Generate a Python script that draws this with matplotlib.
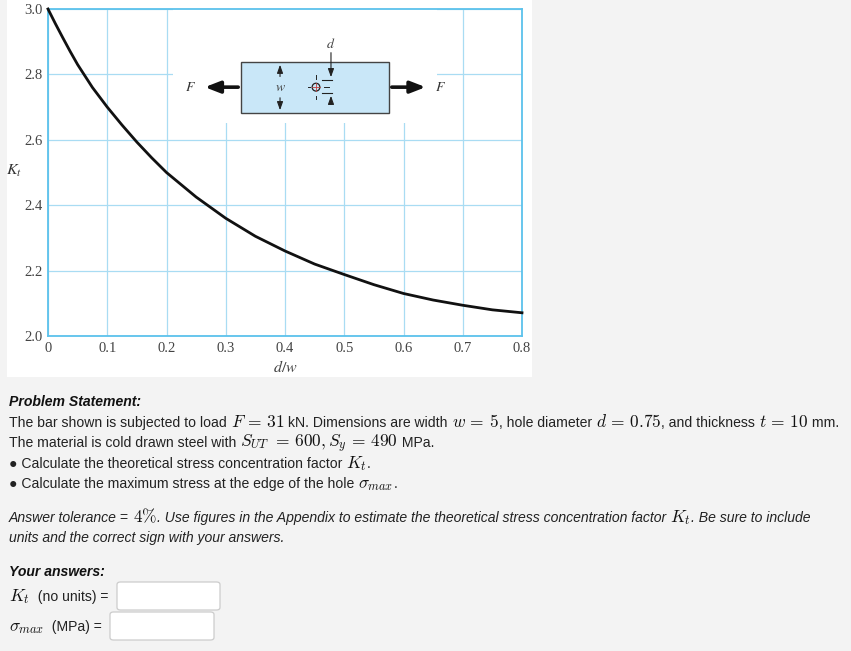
import matplotlib.pyplot as plt
from matplotlib.patches import Rectangle, Ellipse, FancyBboxPatch

# curve: K_t against d/w
d_over_w = [0.0, 0.0125, 0.025, 0.0375, 0.05, 0.075, 0.1, 0.125, 0.15, 0.175, 0.2,
            0.25, 0.3, 0.35, 0.4, 0.45, 0.5, 0.55, 0.6, 0.65, 0.7, 0.75, 0.8]
kt = [3.00, 2.955, 2.912, 2.87, 2.83, 2.76, 2.70, 2.645, 2.593, 2.545, 2.50,
      2.425, 2.36, 2.305, 2.26, 2.22, 2.188, 2.157, 2.13, 2.11, 2.094, 2.08, 2.071]

x_ticks = [0, 0.1, 0.2, 0.3, 0.4, 0.5, 0.6, 0.7, 0.8]
x_labels = ["0", "0.1", "0.2", "0.3", "0.4", "0.5", "0.6", "0.7", "0.8"]
y_ticks = [2.0, 2.2, 2.4, 2.6, 2.8, 3.0]
y_labels = ["2.0", "2.2", "2.4", "2.6", "2.8", "3.0"]

# text lines as (text, is_math) pieces
statement = [
    [("The bar shown is subjected to load ", 0), ("$F\\,=\\,31$", 1),
     (" kN. Dimensions are width ", 0), ("$w\\,=\\,5$", 1), (", hole diameter ", 0),
     ("$d\\,=\\,0.75$", 1), (", and thickness ", 0), ("$t\\,=\\,10$", 1), (" mm.", 0)],
    [("The material is cold drawn steel with ", 0),
     ("$S_{UT}\\,\\,=\\,600, S_y\\,=\\,490$", 1), (" MPa.", 0)],
    [("\u25cf Calculate the theoretical stress concentration factor ", 0), ("$K_t$", 1),
     (".", 0)],
    [("\u25cf Calculate the maximum stress at the edge of the hole ", 0),
     ("$\\sigma_{max}$", 1), (".", 0)],
]
tolerance = [
    [("Answer tolerance = ", 0), ("$4\\%$", 1),
     (". Use figures in the Appendix to estimate the theoretical stress concentration factor ", 0),
     ("$K_t$", 1), (". Be sure to include", 0)],
    [("units and the correct sign with your answers.", 0)],
]
answers = [
    [("$K_t$", 1), ("  (no units) =", 0)],
    [("$\\sigma_{max}$", 1), ("  (MPa) =", 0)],
]

W, H = 851, 651
GRID = "#a9dcf3"
FRAME = "#5cc2ec"
TEXT_SIZE = 10.1
MATH_SIZE = 12.5


def fx(px):
    return px / W


def fy(py):
    return 1 - py / H


fig = plt.figure(figsize=(8.51, 6.51), dpi=100, facecolor="#f3f3f3")
renderer = fig.canvas.get_renderer()


def rich_line(x_px, y_px, parts, italic=False):
    x = x_px
    for txt, is_math in parts:
        if is_math:
            t = fig.text(fx(x), fy(y_px), txt, fontsize=MATH_SIZE, math_fontfamily="cm",
                         color="#111111", va="baseline")
        else:
            t = fig.text(fx(x), fy(y_px), txt, fontsize=TEXT_SIZE, family="Liberation Sans",
                         style="italic" if italic else "normal", color="#222222",
                         va="baseline")
        x = t.get_window_extent(renderer).x1


# white panel behind the chart
fig.patches.append(Rectangle((fx(7), fy(377)), fx(532) - fx(7), 377 / H,
                             transform=fig.transFigure, facecolor="white",
                             edgecolor="none", zorder=-5))

ax = fig.add_axes([fx(48), fy(336), fx(522) - fx(48), (336 - 9) / H])
ax.set_facecolor("white")
ax.set_xlim(0, 0.8)
ax.set_ylim(2.0, 3.0)
ax.set_xticks(x_ticks)
ax.set_xticklabels(x_labels)
ax.set_yticks(y_ticks)
ax.set_yticklabels(y_labels)
ax.tick_params(length=0, labelsize=10.5, labelcolor="#444444", pad=4)
for lab in ax.get_xticklabels() + ax.get_yticklabels():
    lab.set_family("Liberation Serif")
ax.grid(True, color=GRID, lw=0.9)
ax.set_axisbelow(True)
for sp in ax.spines.values():
    sp.set_color(FRAME)
    sp.set_linewidth(1.3)

ax.plot(d_over_w, kt, color="#111111", lw=2.0, zorder=3, clip_on=False)

ax.text(-0.058, 2.505, "$K_t$", fontsize=11.5, color="#333333",
        math_fontfamily="stix", ha="center", va="center")
ax.set_xlabel("$d/w$", fontsize=11.5, color="#444444", labelpad=3)
ax.xaxis.label.set_math_fontfamily("stix")

# inset sketch of the plate with a hole
ax.add_patch(Rectangle((0.211, 2.651), 0.4455, 0.349, facecolor="white",
                       edgecolor="none", zorder=1))
ax.add_patch(Rectangle((0.3257, 2.682), 0.2498, 0.156, facecolor="#c9e7f8",
                       edgecolor="#444444", lw=1.0, zorder=2))
arrow = dict(arrowstyle="-|>,head_length=0.9,head_width=0.35", color="#111111", lw=2.6)
ax.annotate("", xy=(0.260, 2.761), xytext=(0.3257, 2.761), arrowprops=arrow, zorder=2)
ax.annotate("", xy=(0.642, 2.761), xytext=(0.5755, 2.761), arrowprops=arrow, zorder=2)
ax.text(0.240, 2.761, "$F$", fontsize=10, math_fontfamily="stix", color="#333333",
        ha="center", va="center")
ax.text(0.663, 2.761, "$F$", fontsize=10, math_fontfamily="stix", color="#333333",
        ha="center", va="center")

thin = dict(arrowstyle="-|>,head_length=0.5,head_width=0.18", color="#222222", lw=0.8)
ax.annotate("", xy=(0.3916, 2.838), xytext=(0.3916, 2.785), arrowprops=thin, zorder=3)
ax.annotate("", xy=(0.3916, 2.682), xytext=(0.3916, 2.737), arrowprops=thin, zorder=3)
ax.text(0.3916, 2.761, "$w$", fontsize=10, math_fontfamily="stix", color="#444444",
        ha="center", va="center", zorder=3)

ax.add_patch(Ellipse((0.4523, 2.761), 0.013, 0.024, facecolor="none",
                     edgecolor="#222222", lw=0.9, zorder=3))
ax.plot([0.4450, 0.4596], [2.761, 2.761], color="#c04040", lw=0.6, zorder=3)
ax.plot([0.4523, 0.4523], [2.749, 2.773], color="#c04040", lw=0.6, zorder=3)
ax.plot([0.438, 0.442], [2.761, 2.761], color="#222222", lw=0.7, zorder=3)
ax.plot([0.4523, 0.4523], [2.787, 2.798], color="#222222", lw=0.7, zorder=3)
ax.plot([0.4523, 0.4523], [2.724, 2.735], color="#222222", lw=0.7, zorder=3)
ax.plot([0.4625, 0.4785], [2.783, 2.783], color="#222222", lw=0.8, zorder=3)
ax.plot([0.4625, 0.4785], [2.743, 2.743], color="#222222", lw=0.8, zorder=3)
ax.plot([0.466, 0.474], [2.761, 2.761], color="#222222", lw=0.7, zorder=3)
ax.annotate("", xy=(0.4776, 2.783), xytext=(0.4776, 2.875), arrowprops=thin, zorder=3)
ax.annotate("", xy=(0.4776, 2.743), xytext=(0.4776, 2.700), arrowprops=thin, zorder=3)
ax.text(0.4776, 2.894, "$d$", fontsize=10, math_fontfamily="stix", color="#444444",
        ha="center", va="center", zorder=3)

# problem text under the chart
fig.text(fx(9), fy(406), "Problem Statement:", family="Liberation Sans",
         fontsize=TEXT_SIZE, weight="bold", style="italic", color="#111111", va="baseline")
for i, line in enumerate(statement):
    rich_line(9, 427 + 20.4 * i, line)
for i, line in enumerate(tolerance):
    rich_line(9, 522 + 20 * i, line, italic=True)

fig.text(fx(9), fy(576), "Your answers:", family="Liberation Sans", fontsize=TEXT_SIZE,
         weight="bold", style="italic", color="#111111", va="baseline")
rich_line(9, 601, answers[0])
rich_line(9, 631, answers[1])

for x0, y0, x1, y1 in [(117, 582, 220, 610), (110, 612, 214, 640)]:
    fig.patches.append(FancyBboxPatch((fx(x0), fy(y1)), fx(x1 - x0), (y1 - y0) / H,
                                      boxstyle="round,pad=0,rounding_size=0.004",
                                      transform=fig.transFigure, facecolor="white",
                                      edgecolor="#cccccc", lw=0.9))

fig.savefig("out.png", dpi=100, facecolor=fig.get_facecolor())
